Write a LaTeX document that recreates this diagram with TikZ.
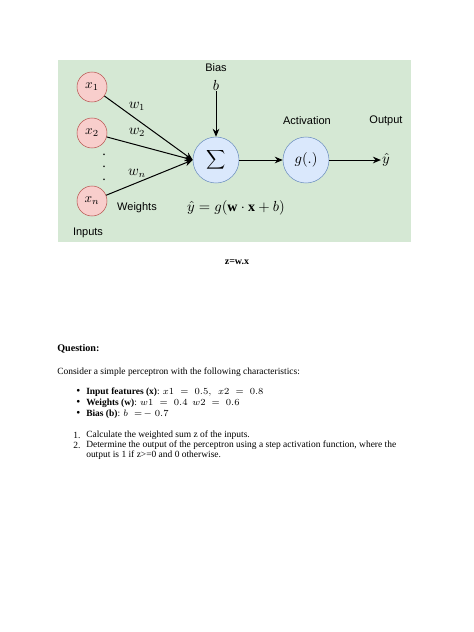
\documentclass[tikz,border=0pt]{standalone}
\usepackage{fontspec}
\setmainfont{Liberation Serif}
\newfontfamily\diagfont{Liberation Sans}
\usetikzlibrary{arrows.meta}

\begin{document}
\begin{tikzpicture}[x=0.75pt,y=0.75pt,yscale=-1,xscale=1,
  inputnode/.style={circle,draw={rgb, 255:red, 184; green, 84; blue, 80 },fill={rgb, 255:red, 248; green, 206; blue, 204 },minimum size=22.5pt,inner sep=0pt,font=\fontsize{10}{12}\selectfont},
  unitnode/.style={circle,draw={rgb, 255:red, 108; green, 142; blue, 191 },fill={rgb, 255:red, 218; green, 232; blue, 252 },minimum size=34.5pt,inner sep=0pt},
  flow/.style={-{Stealth[length=6pt,width=5pt]},line width=0.75pt},
  label/.style={inner sep=0.75pt,font=\diagfont\fontsize{8.25}{10}\selectfont},
  mathlabel/.style={inner sep=0.75pt,font=\fontsize{10.5}{12}\selectfont},
  doc/.style={anchor=west,inner sep=0pt,font=\fontsize{7.1}{7.9}\selectfont},
  bulletmark/.style={anchor=west,inner sep=0pt,font=\fontsize{8.5}{8.5}\selectfont}]
%set diagram page at 474 x 632
\path[use as bounding box,fill=white] (0,0) rectangle (474,632);

%Shape: Rectangle (background)
\fill [color={rgb, 255:red, 213; green, 232; blue, 212 }] (58,60) rectangle (411,242);

%Shape: Circle (inputs)
\node [inputnode] (x1) at (92,87) {$x_1$};
\node [inputnode] (x2) at (92,133) {$x_2$};
\node [inputnode] (xn) at (92,201) {$x_n$};
%Shape: Circle (sum and activation)
\node [unitnode] (sum) at (216,160) {\fontsize{12}{14}\selectfont$\displaystyle\sum$};
\node [unitnode] (act) at (306,160) {\fontsize{10.5}{12}\selectfont$g(.)$};
\node [mathlabel] (yhat) at (386,160) {$\hat{y}$};

% Text Node
\node [label] (bias) at (216,68) {Bias};
\node [mathlabel] (b) at (216,85) {$b$};
\node [label] (activation) at (307,121) {Activation};
\node [label] (output) at (386,121) {Output};
\node [mathlabel] (w1) at (137,106) {$w_1$};
\node [mathlabel] (w2) at (137,132) {$w_2$};
\node [mathlabel] (wn) at (137,173) {$w_n$};
\node [label] (weights) at (137,208) {Weights};
\node [label] (inputs) at (88,233) {Inputs};
\node [mathlabel] (formula) at (236,208) {$\hat{y}=g(\mathbf{w}\cdot\mathbf{x}+b)$};
\node [mathlabel,align=center,font=\fontsize{10.5}{9.4}\selectfont] (dots) at (104,167) {.\\.\\.};

%Straight Lines
\draw [flow] (x1) -- (sum.west);
\draw [flow] (x2) -- (sum.west);
\draw [flow] (xn) -- (sum.west);
\draw [flow] (b) -- (sum);
\draw [flow] (sum) -- (act);
\draw [flow] (act) -- (yhat);

% Text Node
\node [inner sep=0pt,font=\bfseries\fontsize{7.5}{9}\selectfont] (caption) at (237,262) {z=w.x};
\node [doc,font=\bfseries\fontsize{7.6}{9}\selectfont] (question) at (57,349) {Question:};
\node [doc] (intro) at (57,372) {Consider a simple perceptron with the following characteristics:};
\node [bulletmark] (bullet1) at (76,392) {\textbullet};
\node [bulletmark] (bullet2) at (76,403) {\textbullet};
\node [bulletmark] (bullet3) at (76,414) {\textbullet};
\node [doc] (item1) at (86,392) {\textbf{Input features (x)}: $x1\;=\;0.5,\ \ x2\;=\;0.8$};
\node [doc] (item2) at (86,403) {\textbf{Weights (w)}: $w1\;=\;0.4\ \ w2\;=\;0.6$};
\node [doc] (item3) at (86,414) {\textbf{Bias (b)}: $b\;=\!-\;0.7$};
\node [doc] (num1) at (73,435) {1.};
\node [doc] (num2) at (73,445) {2.};
\node [doc] (step1) at (86,435) {Calculate the weighted sum z of the inputs.};
\node [doc,align=left] (step2) at (86,450.3) {Determine the output of the perceptron using a step activation function, where the\\output is 1 if z>=0 and 0 otherwise.};

\end{tikzpicture}
\end{document}
